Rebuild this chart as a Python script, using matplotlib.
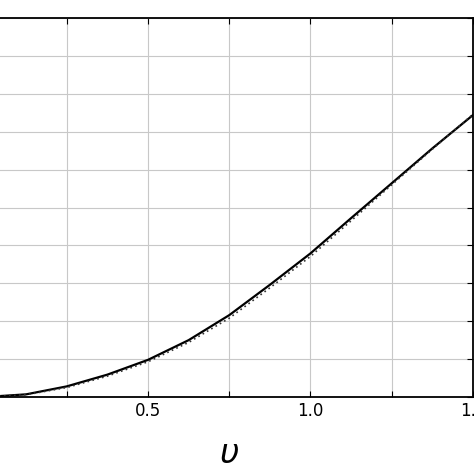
import matplotlib.pyplot as plt

# data (y in grid units)
v = [0.0, 0.125, 0.25, 0.375, 0.5, 0.625, 0.75, 0.875, 1.0, 1.125, 1.25, 1.375, 1.5]
solid = [0.0, 0.07, 0.28, 0.59, 0.98, 1.50, 2.16, 2.96, 3.79, 4.72, 5.64, 6.56, 7.44]
dotted = [0.0, 0.06, 0.25, 0.55, 0.93, 1.44, 2.08, 2.88, 3.71, 4.65, 5.60, 6.54, 7.46]

fig = plt.figure(figsize=(4.74, 4.74), dpi=100)
W = H = 474
ax = fig.add_axes([-14.5 / W, 1 - 397 / H, (473 + 14.5) / W, (397 - 18) / H])

ax.plot(v, solid, color='black', linewidth=1.6)
ax.plot(v, dotted, color='#333333', linewidth=1.2, linestyle=(0, (1, 2)))

ax.set_xlim(0, 1.5)
ax.set_ylim(0, 10)
ax.set_xticks([0, 0.25, 0.5, 0.75, 1.0, 1.25, 1.5])
ax.set_xticklabels(['0', '', '0.5', '', '1.0', '', '1.5'])
ax.set_yticks(range(11))
ax.set_yticklabels([])
ax.grid(color='#c8c8c8', linewidth=0.8)
ax.tick_params(direction='in', top=True, right=True, labelsize=12, length=4)
for s in ax.spines.values():
    s.set_linewidth(1.3)
ax.set_xlabel(r'$\upsilon$', fontsize=24, labelpad=12)

fig.savefig('out.png', dpi=100)
